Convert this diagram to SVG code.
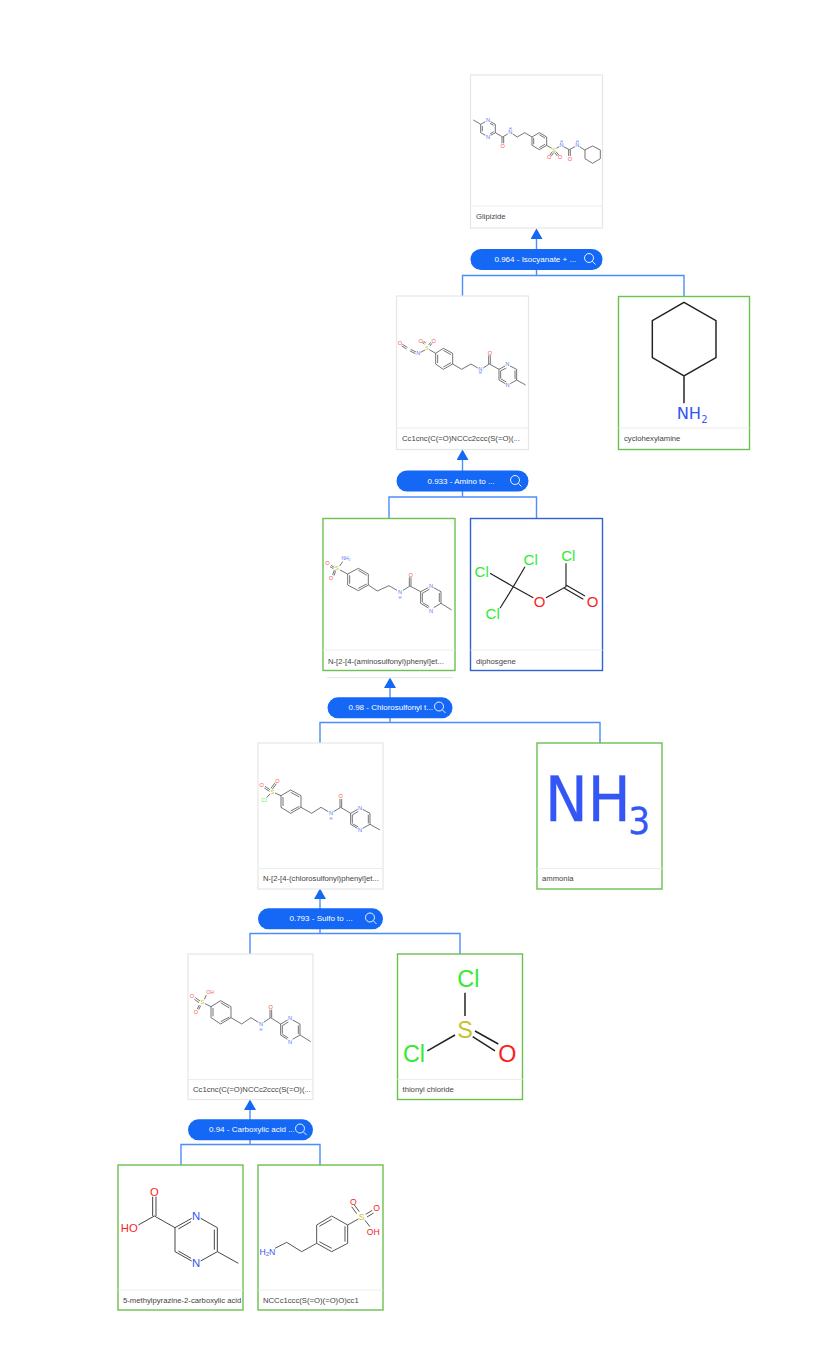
<svg xmlns="http://www.w3.org/2000/svg" width="830" height="1365" viewBox="0 0 830 1365">
<style>
text{font-family:"Liberation Sans",Arial,sans-serif}
.card{fill:#fff;stroke:#e6e6e6;stroke-width:1.2}
.card.g{stroke:#6cc04f;stroke-width:1.4}
.card.u{stroke:#2f62cc;stroke-width:1.4}
.sep{stroke:#ececec;stroke-width:1;fill:none}
.lab{font-size:7.7px;fill:#444}
.pill{fill:#1468f5}
.pt{font-size:8px;fill:#fff}
.ic{fill:none;stroke:#fff;stroke-width:.9}
.con{fill:none;stroke:#4d8dfa;stroke-width:1.4}
.b{fill:none;stroke:#4a4a4a;stroke-width:2.3}
.bk{fill:none;stroke:#222;stroke-width:4.4}
.t{font-family:"DejaVu Sans",sans-serif;text-anchor:middle;dominant-baseline:central}
.s{font-size:17px}
.m{font-size:45px}
.N{fill:#3356f5}.O{fill:#fa1e1e}.C{fill:#33ea33}.S{fill:#c4c42a}
.sO{fill:#ff5050}.sN{fill:#6078f5}.sC{fill:#60ee60}.sS{fill:#d0c030}
</style>
<defs>
<marker id="ah" markerUnits="userSpaceOnUse" markerWidth="12" markerHeight="12" refX="0" refY="6" orient="auto"><path d="M0 0L10.5 6L0 12Z" fill="#1468f5"/></marker>
<g id="mag"><circle cx="-1" cy="-1" r="4.500" class="ic"/><path d="M2.300 2.300L5.500 5.500" class="ic"/></g>
</defs>

<g id="connectors">
<path class="con" marker-end="url(#ah)" d="M536.5 275V239"/>
<path class="con" d="M462.5 296V275.5H684V296"/>
<path class="con" marker-end="url(#ah)" d="M462.5 497V460"/>
<path class="con" d="M389 518V497H536.5V518"/>
<path class="con" marker-end="url(#ah)" d="M390 722V688"/>
<path class="con" d="M320 743V722.5H600V743"/>
<path class="con" marker-end="url(#ah)" d="M320 933.5V899"/>
<path class="con" d="M250 954V933.5H460V954"/>
<path class="con" marker-end="url(#ah)" d="M250 1144V1110"/>
<path class="con" d="M181 1165V1144.5H320V1165"/>
<path d="M327 677.7H453" fill="none" stroke="#e6e6e6" stroke-width="1"/>
</g>

<g id="node-glipizide">
<rect class="card" x="470.5" y="75" width="132" height="153"/><path class="sep" d="M470.5 206H602.5"/>
<text class="lab" x="476" y="219">Glipizide</text>
<g transform="translate(460 70) scale(.3333)">
<path class="b" d="M40 150L62 163L76 155M92 155L106 163V188L92 196M76 196L62 188V163M67 168V184M90 160L101 166M90 192L101 185M106 188L128 201L143 192M158 192L172 201L194 188L216 201V226L238 239L260 226V201L238 188L216 201M221 204V223M238 233L255 223M255 204L238 194M126 201V220M131 201V220M260 226L275 235M277 245L270 255M281 248L274 258M288 245L296 255M284 248L292 258M289 235L298 230M311 230L328 239L345 230M359 230L374 240L398 228L421 240V266L398 280L375 266V240M326 239V258M331 239V258"/>
<g class="t s">
<text class="sN" x="84" y="150">N</text><text class="sN" x="84" y="201">N</text><text class="sO" x="128" y="228">O</text>
<text class="sN" x="151" y="186">N</text><text class="sN" x="151" y="176" font-size="11">H</text>
<text class="sS" x="282" y="240">S</text><text class="sO" x="268" y="261">O</text><text class="sO" x="300" y="261">O</text>
<text class="sN" x="305" y="226">N</text><text class="sN" x="305" y="216" font-size="11">H</text>
<text class="sO" x="330" y="266">O</text><text class="sN" x="352" y="226">N</text><text class="sN" x="352" y="216" font-size="11">H</text>
</g></g>
</g>

<g id="node-isocyanate">
<rect class="card" x="396.5" y="296" width="132" height="153.5"/><path class="sep" d="M396.5 428H528.5"/>
<text class="lab" x="402" y="441">Cc1cnc(C(=O)NCCc2ccc(S(=O)(...</text>
<g transform="translate(390 290) scale(.3333)">
<path class="b" d="M37 163L52 172M35 168L50 177M62 178L78 186M60 183L76 191M92 187L105 180M103 163L97 156M107 160L101 153M116 165L122 157M120 168L126 160M118 179L137 190L160 175L188 190V222L160 238L137 222V190M143 194V219M160 231L183 218M183 194L160 181M188 222L215 238L243 222L263 234M280 234L298 222M296 222V196M301 222V196M298 222L327 238L345 228M360 228L380 238V270L361 281M346 281L327 270V238M332 242V266M349 234L333 242M349 276L333 267M375 241V267M380 270L407 285"/>
<g class="t s">
<text class="sO" x="30" y="160">O</text><text class="sN" x="85" y="190">N</text><text class="sS" x="111" y="175">S</text><text class="sO" x="92" y="152">O</text><text class="sO" x="131" y="152">O</text>
<text class="sN" x="271" y="237">N</text><text class="sN" x="271" y="250" font-size="11">H</text>
<text class="sO" x="300" y="190">O</text><text class="sN" x="352" y="222">N</text><text class="sN" x="353" y="285">N</text>
</g></g>
</g>

<g id="node-cyclohexylamine">
<rect class="card g" x="618.5" y="296.5" width="131" height="153"/><path class="sep" d="M618.5 428H749.5"/>
<text class="lab" x="624" y="441">cyclohexylamine</text>
<g transform="translate(610 270) scale(.3333)">
<path class="bk" d="M222 97L318 152V263L222 318L127 263V152ZM222 318V400"/>
<text class="N" font-size="49" x="200" y="447" style="font-family:'DejaVu Sans',sans-serif">NH<tspan font-size="30" dy="12">2</tspan></text>
</g>
</g>

<g id="node-aminosulfonyl">
<rect class="card g" x="323" y="518.5" width="132" height="152"/><path class="sep" d="M323 650H455"/>
<text class="lab" x="328" y="663.500">N-[2-[4-(aminosulfonyl)phenyl]et...</text>
<g transform="translate(315 510) scale(.3333)">
<path class="b" d="M48 166L58 172M45 170L55 176M58 180L53 195M62 182L57 197M74 168L83 155M75 180L98 192L130 175L160 192V225L130 242L98 225V192M104 196V221M130 235L155 222M155 196L130 181M160 225L187 243L222 227L246 241M264 241L285 228M283 228V202M288 228V202M285 228L317 245L340 233M356 233L378 245V280L356 293M340 294L317 280V245M322 250V276M343 238L322 250M343 290L323 278M373 249V276M378 280L410 300"/>
<g class="t s">
<text class="sO" x="37" y="158">O</text><text class="sO" x="48" y="205">O</text><text class="sS" x="66" y="175">S</text>
<text class="sN" x="93" y="145" font-size="15">NH₂</text>
<text class="sN" x="255" y="247">N</text><text class="sN" x="255" y="262" font-size="12">H</text>
<text class="sO" x="287" y="195">O</text><text class="sN" x="348" y="228">N</text><text class="sN" x="348" y="302">N</text>
</g></g>
</g>

<g id="node-diphosgene">
<rect class="card u" x="470.5" y="518.5" width="132" height="152"/><path class="sep" d="M470.5 650H602.5"/>
<text class="lab" x="476" y="663.500">diphosgene</text>
<g transform="translate(465 510) scale(.3333)">
<path class="bk" style="stroke-width:3.400" d="M145 230L75 190M145 230L180 170M145 230L105 295M145 230L205 263M243 263L303 230V160M303 225L360 258M298 235L355 268"/>
<g class="t m">
<text class="C" x="50" y="185">Cl</text><text class="C" x="197" y="150">Cl</text><text class="C" x="83" y="310">Cl</text><text class="C" x="310" y="137">Cl</text>
<text class="O" x="224" y="275">O</text><text class="O" x="383" y="275">O</text>
</g></g>
</g>

<g id="node-chlorosulfonyl">
<rect class="card" x="258" y="743" width="125" height="146"/><path class="sep" d="M258 868.5H383"/>
<text class="lab" x="263" y="881">N-[2-[4-(chlorosulfonyl)phenyl]et...</text>
<g transform="translate(250 735) scale(.3333)">
<path class="b" d="M45 154L60 164M43 159L58 169M63 160L75 143M67 163L79 146M60 177L50 188M75 174L93 182L122 165L153 182V217L122 235L93 217V182M99 186V213M122 228L148 214M148 186L122 172M153 217L185 235L213 217L235 230M251 230L272 217M270 217V192M275 217V192M272 217L302 235L323 223M338 223L360 235V268L338 280M322 280L302 268V235M307 240V264M325 229L307 240M325 276L307 266M355 239V265M360 268L390 285"/>
<g class="t s">
<text class="sO" x="35" y="150">O</text><text class="sO" x="82" y="137">O</text><text class="sC" x="42" y="196">Cl</text><text class="sS" x="67" y="170">S</text>
<text class="sN" x="243" y="235">N</text><text class="sN" x="243" y="250" font-size="12">H</text>
<text class="sO" x="272" y="184">O</text><text class="sN" x="330" y="218">N</text><text class="sN" x="330" y="285">N</text>
</g></g>
</g>

<g id="node-ammonia">
<rect class="card g" x="537" y="743" width="125" height="146"/><path class="sep" d="M537 868.5H662"/>
<text class="lab" x="542" y="881">ammonia</text>
<g transform="translate(530 735) scale(.3067 .3333)">
<text class="N" font-size="186" x="49" y="258" style="font-family:'DejaVu Sans',sans-serif" stroke="#3356f5" stroke-width="1">NH<tspan font-size="112" dx="-8" dy="39">3</tspan></text>
</g>
</g>

<g id="node-sulfonic">
<rect class="card" x="188" y="954" width="125" height="145.5"/><path class="sep" d="M188 1079.5H313"/>
<text class="lab" x="193" y="1092">Cc1cnc(C(=O)NCCc2ccc(S(=O)(...</text>
<g transform="translate(180 945) scale(.3333)">
<path class="b" d="M46 158L60 168M43 163L57 173M58 180L52 192M62 182L56 194M73 163L79 150M75 176L93 185L122 167L153 185V218L122 237L93 218V185M99 189V214M122 230L148 216M148 189L122 173M153 218L185 237L213 218L235 232M251 232L272 218M270 218V194M275 218V194M272 218L302 237L323 225M338 225L360 237V270L338 283M322 283L302 270V237M307 242V266M325 231L307 242M325 279L307 268M355 241V267M360 270L392 290"/>
<g class="t s">
<text class="sO" x="36" y="154">O</text><text class="sO" x="48" y="200">O</text><text class="sS" x="67" y="172">S</text><text class="sO" x="90" y="140" font-size="15">OH</text>
<text class="sN" x="243" y="237">N</text><text class="sN" x="243" y="253" font-size="12">H</text>
<text class="sO" x="272" y="186">O</text><text class="sN" x="330" y="220">N</text><text class="sN" x="330" y="290">N</text>
</g></g>
</g>

<g id="node-thionyl-chloride">
<rect class="card g" x="397.5" y="954" width="125" height="145.5"/><path class="sep" d="M397.5 1079.5H522.5"/>
<text class="lab" x="402.500" y="1092">thionyl chloride</text>
<g transform="translate(390 945) scale(.3333)">
<path class="bk" d="M225 143V213M195 270L112 318M255 258L325 297M248 275L315 318"/>
<g class="t" font-size="70">
<text class="C" x="235" y="102">Cl</text><text class="S" x="225" y="255">S</text><text class="C" x="72" y="328">Cl</text><text class="O" x="352" y="328">O</text>
</g></g>
</g>

<g id="node-methylpyrazine-acid">
<rect class="card g" x="118" y="1165" width="125" height="145"/><path class="sep" d="M118 1290H243"/>
<text class="lab" x="123" y="1303">5-methylpyrazine-2-carboxylic acid</text>
<g transform="translate(110 1155) scale(.3333)">
<path class="bk" style="stroke-width:3;stroke:#444" d="M128 125V183M138 125V183M133 183L85 210M133 183L195 218L245 190M272 190L322 218V290L272 318M245 318L195 290V218M205 222L243 200M205 288L243 310M313 224V284M322 290L385 325"/>
<g class="t" font-size="34">
<text class="O" x="133" y="110">O</text><text class="O" x="58" y="218">HO</text><text class="N" x="258" y="183">N</text><text class="N" x="258" y="325">N</text>
</g></g>
</g>

<g id="node-aminoethylbenzenesulfonic">
<rect class="card g" x="258" y="1165" width="125" height="145"/><path class="sep" d="M258 1290H383"/>
<text class="lab" x="263" y="1303">NCCc1ccc(S(=O)(=O)O)cc1</text>
<g transform="translate(250 1155) scale(.3333)">
<path class="bk" style="stroke-width:3;stroke:#555" d="M75 280L110 262L155 290L200 265V210L245 183L293 210V265L245 290L200 265M208 214L245 193M285 214V260M245 280L208 260M293 210L325 192M328 170L313 150M320 176L305 155M347 178L367 166M351 186L371 174M345 196L360 215"/>
<g class="t" font-size="26">
<text class="N" x="52" y="290">H₂N</text><text class="S" x="335" y="185">S</text><text class="O" x="310" y="140">O</text><text class="O" x="380" y="160">O</text><text class="O" x="370" y="230">OH</text>
</g></g>
</g>

<g id="edge-label-1"><rect class="pill" x="470.5" y="249" width="132" height="21" rx="10.500"/><text class="pt" x="494.5" y="262">0.964 - Isocyanate + ...</text><use href="#mag" x="590" y="259"/></g>
<g id="edge-label-2"><rect class="pill" x="396.500" y="470.500" width="132" height="21" rx="10.500"/><text class="pt" x="427.500" y="483.500">0.933 - Amino to ...</text><use href="#mag" x="516" y="481"/></g>
<g id="edge-label-3"><rect class="pill" x="327.500" y="697.300" width="125" height="21" rx="10.500"/><text class="pt" x="348.500" y="710.300">0.98 - Chlorosulfonyl t...</text><use href="#mag" x="440" y="707.500"/></g>
<g id="edge-label-4"><rect class="pill" x="258" y="908.300" width="125" height="21" rx="10.500"/><text class="pt" x="289.500" y="921.300">0.793 - Sulfo to ...</text><use href="#mag" x="371" y="918.500"/></g>
<g id="edge-label-5"><rect class="pill" x="188" y="1119.300" width="125" height="21" rx="10.500"/><text class="pt" x="209" y="1132.300">0.94 - Carboxylic acid ...</text><use href="#mag" x="301" y="1129.500"/></g>
</svg>
